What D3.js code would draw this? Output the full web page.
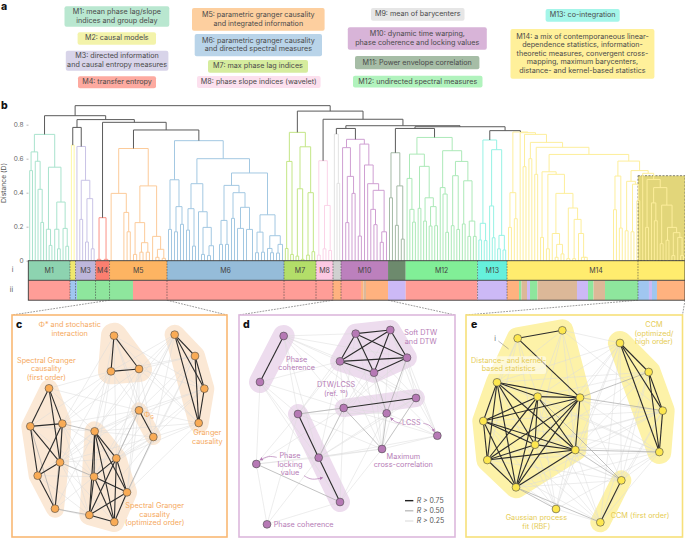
<!DOCTYPE html>
<html><head><meta charset="utf-8">
<style>html,body{margin:0;padding:0;background:#fff}svg{display:block}text{font-family:Inter,Roboto,"Noto Sans",sans-serif}</style>
<script src="https://cdn.jsdelivr.net/npm/d3@7/dist/d3.min.js"></script>
</head><body><svg id="c" width="685" height="538"></svg>
<script>
// ---------- panel a ----------
const legendLines = [
 ["M1: mean phase lag/slope","indices and group delay"],["M2: causal models"],
 ["M3: directed information","and causal entropy measures"],["M4: transfer entropy"],
 ["M5: parametric granger causality","and integrated information"],
 ["M6: parametric granger causality","and directed spectral measures"],
 ["M7: max phase lag indices"],["M8: phase slope indices (wavelet)"],["M9: mean of barycenters"],
 ["M10: dynamic time warping,","phase coherence and locking values"],["M11: Power envelope correlation"],
 ["M12: undirected spectral measures"],["M13: co-integration"],
 ["M14: a mix of contemporaneous linear-","dependence statistics, information-","theoretic measures, convergent cross-","mapping, maximum barycenters,","distance- and kernel-based statistics"]];
const legendFill = ["#b9e7d0","#f3f3aa","#d8d4e9","#fdaaa0","#fdcf9f","#b9d4e9","#d6ec9e","#fce0ee","#e6e6e6","#d8b4d8","#a6bda6","#b1f3bd","#a4f5e9","#fff09a"];
const legendBox = [[64.5,6.3,104.8,20.4],[77.6,32.3,78.4,12.4],[65.8,50.7,102.6,20],[78,76.3,78,12],[192,8,132.6,22.7],[194.7,34,127.3,22.3],[208,60,100,12.7],[197,76,123.6,12],[371,8,93.5,12.7],[347.8,27.3,139,22.4],[355,56,124.4,13.3],[353,75.7,129.5,11.7],[545.6,9,74.1,12.7],[510.5,29,143.9,49.7]];

// ---------- panel b: dendrogram, [height, left, right]; a leaf is a number = empty slots before it ----------
const m1=[.743,[.64,[.53,0,0],[.585,0,[.42,0,[.225,0,0]]]],[.55,[.185,0,[.09,0,0]],[.345,[.185,0,[.07,0,0]],[.19,0,[.085,0,0]]]]];
const m2=[.68,0,0];
const m3=[.672,0,[.473,[.243,0,0],[.365,[.11,0,0],[.07,0,0]]]];
const m4=[.253,[.008,0,0],[.008,0,0]];
const m5=[.66,[.396,0,[.284,3,[.17,0,0]]],[.44,[.224,[.037,0,0],[.106,[.05,0,0],[.05,0,0]]],[.143,0,[.067,[.02,0,0],[.014,0,0]]]]];
const m6=[.706,[.476,[.184,0,0],[.318,[.17,0,0],[.214,0,0]]],[.6,[.453,[.306,[.18,0,0],[.086,0,0]],[.288,0,[.196,[.037,0,0],[.088,[.03,0,0],0]]]],[.516,[.443,[.237,[.096,1,0],[.096,0,0]],[.4,[.249,0,0],[.314,[.19,0,1],[.184,0,1]]]],[.27,[.168,[.047,0,0],[.05,0,0]],[.147,[.072,0,[.047,0,0]],[.096,[.045,0,0],0]]]]]];
const m7=[.755,[.584,[.072,0,0],[.037,0,0]],[.67,[.423,[.027,0,0],[.008,0,0]],[.4,[.033,0,0],[.053,0,0]]]];
const m8=[.588,[.033,0,0],[.325,[.07,0,0],[.06,0,0]]];
const m9=[.745,0,[.455,0,0]];
const m10=[.714,[.665,0,[.496,[.224,0,0],[.396,0,0]]],[.686,[.145,0,0],[.563,0,[.453,0,[.414,[.302,0,[.212,0,0]],[.17,[.108,0,0],0]]]]]];
const m11=[.635,[.37,0,0],[.44,[.208,0,0],[.127,0,0]]];
const m12=[.725,[.627,[.484,0,[.302,0,[.227,0,0]]],[.555,[.308,0,0],[.37,[.233,0,0],[.318,[.204,0,0],[.206,0,0]]]]],[.647,[.43,0,[.392,0,[.167,0,0]]],[.584,[.5,[.206,0,0],[.184,0,0]],[.47,[.216,0,0],[.233,[.143,0,0],[.143,0,0]]]]]];
const m13=[.71,[.22,[.122,0,0],[.118,0,0]],[.653,[.322,0,[.135,0,0]],[.149,[.07,0,0],[.063,0,0]]]];
const m14tail=[.514,0,[.478,[.196,0,0],[.43,[.34,0,[.235,0,0]],[.327,[.1,0,0],[.196,[.12,0,0],[.165,[.03,0,0],[.137,0,[.03,0,0]]]]]]]];
const m14right=[.586,[.498,[.3,8,0],[.192,0,0]],[.53,[.467,[.176,0,0],[.45,[.17,0,0],[.353,0,0]]],m14tail]];
const m14mid=[.523,[.137,0,0],[.508,[.07,0,0],[.396,[.16,0,[.096,[.02,0,0],[.04,0,0]]],[.31,[.012,0,0],[.243,[.012,0,0],[.16,0,[.02,0,[.02,0,0]]]]]]]];
const m14=[.757,[.4,[.196,0,0],[.247,0,0]],[.753,0,[.743,[.553,0,0],[.696,[.6,0,0],[.667,[.508,0,0],[.625,m14mid,m14right]]]]]];
const topTree=[.912,[.853,"M1",[.83,[.784,"M2","M3"],[.814,"M4",[.769,"M5","M6"]]]],[.88,"M7",[.832,"M8",[.794,[.778,"M9","M10"],[.788,[.778,"M11","M12"],[.765,"M13","M14"]]]]]];
const clusterTrees={M1:m1,M2:m2,M3:m3,M4:m4,M5:m5,M6:m6,M7:m7,M8:m8,M9:m9,M10:m10,M11:m11,M12:m12,M13:m13,M14:m14};
const clusterNames=["M1","M2","M3","M4","M5","M6","M7","M8","M9","M10","M11","M12","M13","M14"];
const clusterLabels=["M1","","M3","M4","M5","M6","M7","M8","","M10","","M12","M13","M14"];
const clusterEdges=[0,6.35,7.19,10.24,12.37,21.12,38.94,43.81,46.40,47.62,54.78,57.47,68.41,72.90,100];
const clusterFill=["#8dd3b0","#f0e86e","#bdb6da","#fb7f70","#fdb462","#95bcd9","#b3de69","#fcc8e2","#d0d0d0","#bc80bd","#6d8a6d","#81ef97","#65f0dc","#ffec6e"];
const clusterLine=["#a9e3cd","#fdf7a6","#c9c3e6","#fb9186","#fccb9a","#a3c8e2","#c3e686","#fbd3e8","#e2e2e2","#cf9fd2","#a5baa6","#ace9b8","#96f2e4","#fdee9b"];
const dashedAt=[6.35,7.19,10.24,12.37,21.12,38.94,43.81,46.40,47.62,68.41,72.90,92.84];
const iiEnds=[6.35,7.42,15.94,46.40,47.62,50.66,51.04,51.42,54.78,57.47,68.40,72.90,74.72,75.10,75.94,76.40,77.54,83.55,85.23,86.07,87.82,92.84,94.51,94.97,95.73,100];
const iiKinds=["r","b","g","r","o","r","o","t","o","l","r","l","o","g","t","l","g","t","l","g","t","g","b","l","b","o"];
const iiColor={r:"#ff9d97",b:"#a0c6f0",g:"#8ee69d",o:"#ffb27f",l:"#ccb9f6",t:"#dcb898"};
const yTicks=[0,.2,.4,.6,.8];
const highlight=[92.84,100,0,.5];
const callouts=[[12.37,12],[21.12,227],[46.40,239],[54.78,455],[92.84,466],[100,682.5]];

// ---------- panels c,d,e: node layout units are crop units, edges are node-index lists ----------
const cNodes=[[342,92],[333,199],[417,192],[524,89],[585,153],[613,251],[596,354],[417,316],[460,396],[147,250],[91,364],[187,356],[180,472],[113,512],[165,611],[284,379],[349,460],[282,515],[381,562],[268,630],[343,651]];
const cGroups=[[0,1,2],[3,4,5,6],[7,8],[9,10,11,12,13,14],[15,16,17,18,19,20]];
const cPads=[13,10,8,9,10];
const cStrong=[[0,1],[0,2],[1,2],[3,4],[3,5],[3,6],[4,5],[4,6],[5,6],[7,8],[9,10],[9,11],[9,12],[10,11],[10,12],[10,13],[11,12],[11,13],[12,13],[12,14],[13,14],[15,16],[15,17],[15,18],[15,19],[15,20],[16,17],[16,18],[16,19],[16,20],[17,18],[17,19],[17,20],[18,19],[18,20],[19,20]];
const cMid=[[11,15],[12,17],[14,19],[7,16],[8,18],[10,14],[11,14]];
const cLight=[[0,[5,6,7,8,11,15,16]],[1,[9,10,11,12,3,4,7,15,17]],[2,[3,4,5,6,7,8,11,15,16,18]],[3,[7,8,15,16,17]],[4,[7,8,16,18]],[5,[7,8,15,17]],[6,[7,8,16,18,15]],[7,[15,17,18,19,11,12]],[8,[15,16,17,19,20,12]],[9,[15,7]],[10,[15,17]],[11,[16,17,19]],[12,[15,16,18,19,20]],[13,[17,19,15]],[14,[17,20,15]]];
const dNodes=[[161,93],[90,231],[377,86],[481,75],[531,158],[432,203],[330,169],[341,309],[558,279],[470,325],[622,392],[456,432],[204,327],[266,458],[330,591],[79,477],[111,658]];
const dGroups=[[0,1],[2,3,4,5,6],[7,8],[12,13,14]];
const dPads=[11,10,9,10];
const dStrong=[[0,1],[2,3],[2,4],[2,5],[2,6],[3,4],[3,5],[3,6],[4,5],[4,6],[5,6],[7,8],[12,13],[13,14]];
const dMid=[[15,14],[7,11],[9,11],[8,11],[12,7],[13,7],[5,9],[9,4]];
const dLight=[[0,[2,6,5,4,7,12,13,9]],[1,[6,12,13,15,14,7]],[2,[7,8,9,11,12]],[3,[7,8,11,10]],[4,[8,10,11,7]],[5,[7,8,11,10,13]],[6,[7,8,9,11,12,13]],[7,[9,10,14,15]],[8,[9,10,12,13]],[9,[10,12,13,14]],[10,[11,13]],[11,[13,14,15,12]],[12,[15,16,14]],[13,[15,16]],[14,[16]],[15,[16]]];
const eNodes=[[173,100],[307,76],[111,232],[233,275],[360,278],[70,348],[225,419],[346,435],[82,465],[168,547],[480,114],[566,201],[608,317],[598,441],[484,526],[421,652],[288,612]];
const eGroups=[[0,1,2,3,4,5,6,7,8,9],[10,11,12,13],[14,15]];
const ePads=[11,12,10];
const eStrong=[[0,1],[0,4],[2,3],[2,4],[2,5],[2,6],[2,7],[2,8],[2,9],[3,4],[3,5],[3,6],[3,7],[3,8],[3,9],[4,5],[4,6],[4,7],[4,8],[4,9],[5,6],[5,7],[5,8],[5,9],[6,7],[6,8],[6,9],[7,8],[7,9],[8,9],[10,11],[10,12],[10,13],[11,12],[11,13],[12,13],[14,15]];
const eMid=[[9,16],[7,14],[4,11],[7,13],[9,15],[3,14],[4,12]];
const eLight=[[0,[3,5,2,6,8]],[1,[2,3,4,6,7,10,12]],[4,[10,13,14,16]],[7,[10,11,12,15,16]],[3,[10,11,12,13,15,16]],[6,[12,13,14,15,16,10,11]],[2,[10,11,13,14,16]],[5,[12,13,14,15,16]],[8,[12,14,15,16,13]],[9,[13,14,12]],[10,[14,15,16]],[11,[14,15]],[12,[14,15]],[13,[14,15,16]],[16,[15]]];
const cTexts=[["Φ* and stochastic",209,60,"m"],["interaction",209,87,"m"],["Spectral Granger",139,168,"m"],["causality",139,193,"m"],["(first order)",139,218,"m"],["Granger",622,385,"m"],["causality",622,410,"m"],["Spectral Granger",464,604,"m"],["causality",464,630,"m"],["(optimized order)",464,655,"m"],["Φ",441,330,"m"]];
const dTexts=[["Soft DTW",572,85,"m"],["and DTW",572,111,"m"],["Phase",200,164,"m"],["coherence",200,190,"m"],["DTW/LCSS",318,240,"m"],["(ref. ¹⁰)",318,266,"m"],["LCSS",544,355,"m"],["Phase",180,453,"m"],["locking",180,479,"m"],["value",180,505,"m"],["Maximum",520,455,"m"],["cross-correlation",520,481,"m"],["Phase coherence",131,659,"s"]];
const eTexts=[["CCM",582,60,"m"],["(optimized/",582,86,"m"],["high order)",582,112,"m"],["Distance- and kernel-",146,167,"m"],["based statistics",146,193,"m"],["Gaussian process",229,640,"m"],["fit (RBF)",229,665,"m"],["CCM (first order)",540,632,"m"]];
const dArrows=[[[515,355],[495,352],[482,338]],[[580,355],[602,360],[613,380]],[[140,457],[115,452],[90,465]],[[222,512],[245,526],[278,518]]];
const rThresh=["0.75","0.50","0.25"];

// ---------- drawing ----------
const svg=d3.select("#c");
const letter=(t,x,y)=>svg.append("text").text(t).attr("x",x).attr("y",y).attr("font-size",10.5).attr("font-weight",800).attr("fill","#111");
const txt=(g,t,x,y,a,fs,fill)=>g.append("text").text(t).attr("x",x).attr("y",y).attr("text-anchor",a).attr("dominant-baseline","middle").attr("font-size",fs).attr("fill",fill);

// panel a
const ga=svg.append("g");
legendLines.forEach((lines,i)=>{
  const [x,y,w,h]=legendBox[i];
  ga.append("rect").attr("x",x).attr("y",y).attr("width",w).attr("height",h).attr("rx",2).attr("fill",legendFill[i]);
  const lh=i===13?8.6:8.7, y0=y+h/2-(lines.length-1)*lh/2;
  lines.forEach((l,j)=>txt(ga,l,x+w/2,y0+j*lh,"middle",7.2,"#4a4a4a"));
});
letter("a",1,10); letter("b",1,109);

// panel b
const xBar=d3.scaleLinear([0,100],[28.3,685]);
const yD=d3.scaleLinear([0,.8],[260.7,124.7]);
const gb=svg.append("g");
txt(gb,"Distance (D)",0,0,"middle",6.8,"#555").attr("transform","translate(4.5,183) rotate(-90)");
const yAxis=d3.axisLeft(yD).tickValues(yTicks).tickSize(2).tickPadding(3).tickFormat(d=>d===0?"0":d3.format(".1f")(d));
const ya=gb.append("g").attr("transform","translate(28.5,0)").call(yAxis);
ya.select(".domain").remove();
ya.selectAll("line").attr("stroke","#888").attr("stroke-width",.6);
ya.selectAll("text").attr("font-size",6.5).attr("fill","#666").style("font-family","Inter,Roboto,sans-serif");
// highlight box behind the links
gb.append("rect").attr("x",xBar(highlight[0])).attr("y",yD(highlight[3])).attr("width",xBar(highlight[1])-xBar(highlight[0])).attr("height",yD(0)-yD(highlight[3])).attr("fill","#e2d67a").attr("stroke","#555").attr("stroke-width",.7).attr("stroke-dasharray","2,1.5");
const slots=n=>typeof n==="number"?n+1:slots(n[1])+slots(n[2]);
const link=(x1,h1,x2,h2,h,col,w)=>gb.append("path").attr("d",`M${xBar(x1)},${yD(h1)}V${yD(h)}H${xBar(x2)}V${yD(h2)}`).attr("fill","none").attr("stroke",col).attr("stroke-width",w);
function layoutCluster(n,st,i){
  if(typeof n==="number"){st.k+=n;const x=st.x0+(st.k+.5)*st.w;st.k+=1;return {x,h:0};}
  const a=layoutCluster(n[1],st,i),b=layoutCluster(n[2],st,i);
  link(a.x,a.h,b.x,b.h,n[0],clusterLine[i],1);
  return {x:(a.x+b.x)/2,h:n[0]};
}
function layoutTop(n){
  if(typeof n==="string"){
    const i=clusterNames.indexOf(n),t=clusterTrees[n];
    return layoutCluster(t,{x0:clusterEdges[i],w:(clusterEdges[i+1]-clusterEdges[i])/slots(t),k:0},i);
  }
  const a=layoutTop(n[1]),b=layoutTop(n[2]);
  link(a.x,a.h,b.x,b.h,n[0],"#5a5a5a",1);
  return {x:(a.x+b.x)/2,h:n[0]};
}
layoutTop(topTree);
// rows i and ii
const rowI=[260.7,280.3],rowII=[280.3,300.2];
clusterNames.forEach((_,i)=>{
  const x0=xBar(clusterEdges[i]),x1=xBar(clusterEdges[i+1]);
  gb.append("rect").attr("x",x0).attr("y",rowI[0]).attr("width",x1-x0).attr("height",rowI[1]-rowI[0]).attr("fill",clusterFill[i]);
  if(clusterLabels[i])txt(gb,clusterLabels[i],(x0+x1)/2,(rowI[0]+rowI[1])/2+.3,"middle",7,"#444");
});
let prev=0;
iiEnds.forEach((e,i)=>{
  gb.append("rect").attr("x",xBar(prev)).attr("y",rowII[0]).attr("width",xBar(e)-xBar(prev)).attr("height",rowII[1]-rowII[0]).attr("fill",iiColor[iiKinds[i]]);
  prev=e;
});
dashedAt.forEach(d=>gb.append("line").attr("x1",xBar(d)).attr("x2",xBar(d)).attr("y1",rowI[0]).attr("y2",rowII[1]).attr("stroke","#444").attr("stroke-width",.6).attr("stroke-dasharray","1.6,1.2"));
gb.append("rect").attr("x",xBar(0)).attr("y",rowI[0]).attr("width",xBar(100)-xBar(0)).attr("height",rowII[1]-rowI[0]).attr("fill","none").attr("stroke","#3a3a3a").attr("stroke-width",.9);
gb.append("line").attr("x1",xBar(0)).attr("x2",xBar(100)).attr("y1",rowI[1]).attr("y2",rowI[1]).attr("stroke","#3a3a3a").attr("stroke-width",.9);
txt(gb,"i",12.5,270.5,"middle",7,"#555"); txt(gb,"ii",11.5,290.5,"middle",7,"#555");
callouts.forEach(([p,x])=>gb.append("line").attr("x1",xBar(p)).attr("x2",x).attr("y1",rowII[1]).attr("y2",315).attr("stroke","#555").attr("stroke-width",.6).attr("stroke-dasharray","1.8,1.1"));

// network panels
const defs=svg.append("defs");
function panel(o){
  const g=svg.append("g");
  const x=d3.scaleLinear([0,705],[o.ox,o.ox+235]),y=d3.scaleLinear([0,699],[305,538]);
  g.append("rect").attr("x",o.box[0]).attr("y",315).attr("width",o.box[1]-o.box[0]).attr("height",222).attr("fill","#fff").attr("stroke",o.border).attr("stroke-width",1.6);
  o.groups.forEach((gr,i)=>{
    const pts=gr.map(k=>[x(o.nodes[k][0]),y(o.nodes[k][1])]);
    const h=pts.length>2?d3.polygonHull(pts):pts;
    g.append("path").attr("d",d3.line()(h)+"Z").attr("fill",o.hull).attr("stroke",o.hull).attr("stroke-width",o.pads[i]*2).attr("stroke-linejoin","round");
  });
  const edge=(a,b,c,w)=>g.append("line").attr("x1",x(o.nodes[a][0])).attr("y1",y(o.nodes[a][1])).attr("x2",x(o.nodes[b][0])).attr("y2",y(o.nodes[b][1])).attr("stroke",c).attr("stroke-width",w);
  o.light.forEach(([a,bs])=>bs.forEach(b=>edge(a,b,"#dadada",.5)));
  o.mid.forEach(([a,b])=>edge(a,b,"#a8a8a8",.7));
  o.strong.forEach(([a,b])=>edge(a,b,"#2b2b2b",1.1));
  o.nodes.forEach(n=>g.append("circle").attr("cx",x(n[0])).attr("cy",y(n[1])).attr("r",3.9).attr("fill",o.node).attr("stroke","#4a4a4a").attr("stroke-width",.6));
  return {g,x,y};
}
const pc=panel({ox:0,box:[12,227],border:"#f9b874",hull:"#fbe8d5",nodes:cNodes,groups:cGroups,pads:cPads,strong:cStrong,mid:cMid,light:cLight,node:"#f9ab55"});
cTexts.forEach(([t,x,y,a])=>txt(pc.g,t,pc.x(x),pc.y(y),a==="m"?"middle":"start",7.3,"#f5a95e"));
txt(pc.g,"G",pc.x(456),pc.y(338),"middle",4.8,"#f5a95e");
letter("c",16,328);

const pd=panel({ox:230,box:[239,455],border:"#dcb8dc",hull:"#eddcee",nodes:dNodes,groups:dGroups,pads:dPads,strong:dStrong,mid:dMid,light:dLight,node:"#b679b5"});
dTexts.forEach(([t,x,y,a])=>txt(pd.g,t,pd.x(x),pd.y(y),a==="m"?"middle":"start",7.3,"#b67cb6"));
const curve=d3.line().curve(d3.curveBasis);
defs.append("marker").attr("id","ah").attr("viewBox","0 0 6 6").attr("refX",5).attr("refY",3).attr("markerWidth",5).attr("markerHeight",5).attr("orient","auto").append("path").attr("d","M0,0L6,3L0,6Z").attr("fill","#b67cb6");
dArrows.forEach(p=>pd.g.append("path").attr("d",curve(p.map(q=>[pd.x(q[0]),pd.y(q[1])]))).attr("fill","none").attr("stroke","#b67cb6").attr("stroke-width",.7).attr("marker-end","url(#ah)"));
letter("d",243,328);
// R legend
const rStyle=[["#222",1.4],["#999",.9],["#cfcfcf",.8]];
rThresh.forEach((r,i)=>{
  const yy=pd.y(587+i*30.5);
  pd.g.append("line").attr("x1",pd.x(525)).attr("x2",pd.x(550)).attr("y1",yy).attr("y2",yy).attr("stroke",rStyle[i][0]).attr("stroke-width",rStyle[i][1]);
  const t=txt(pd.g,"",pd.x(560),yy,"start",6.9,"#555");
  t.append("tspan").text("R").attr("font-style","italic");
  t.append("tspan").text(" > "+r);
});

const pe=panel({ox:460,box:[466,682.5],border:"#f7e07a",hull:"#fdf2a8",nodes:eNodes,groups:eGroups,pads:ePads,strong:eStrong,mid:eMid,light:eLight,node:"#fde74f"});
pe.g.append("rect").attr("x",pe.x(32)).attr("y",pe.y(154)).attr("width",pe.x(258)-pe.x(32)).attr("height",pe.y(207)-pe.y(154)).attr("fill","#fff").attr("opacity",.55).attr("rx",2);
eTexts.forEach(([t,x,y,a])=>txt(pe.g,t,pe.x(x),pe.y(y),a==="m"?"middle":"start",7.3,"#e6cc55"));
txt(pe.g,"i",pe.x(105),pe.y(103),"middle",7,"#666");
pe.g.append("line").attr("x1",pe.x(115)).attr("y1",pe.y(108)).attr("x2",pe.x(146)).attr("y2",pe.y(132)).attr("stroke","#777").attr("stroke-width",.5);
letter("e",471,328);
</script></body></html>
